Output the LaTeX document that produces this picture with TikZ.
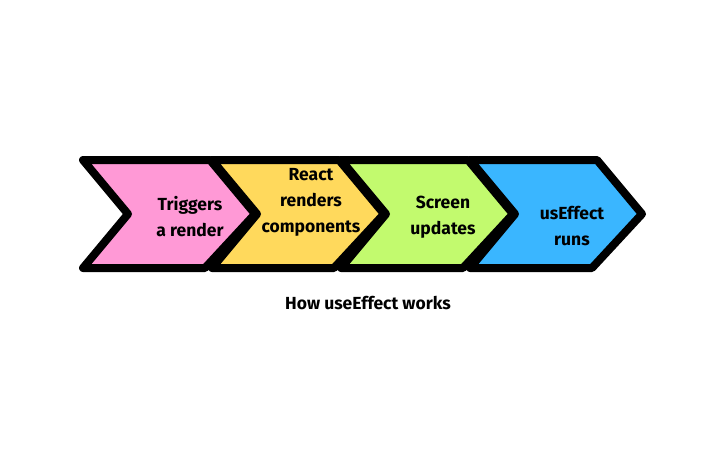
\documentclass[tikz,border=0pt]{standalone}
\usepackage{fontspec}
\setmainfont{Fira Sans}
\definecolor{cpink}{HTML}{FF99D6}
\definecolor{cyellow}{HTML}{FFD95C}
\definecolor{cgreen}{HTML}{C2FA6E}
\definecolor{cblue}{HTML}{3AB6FF}
\tikzset{
  chev/.style={draw=black, line width=8pt, line join=round, line cap=round},
  lbl/.style={align=center, font=\fontsize{17.5}{26}\selectfont\bfseries, text=black},
}
\begin{document}
\begin{tikzpicture}[x=1pt,y=-1pt]
\useasboundingbox (0,0) rectangle (719,474);
\foreach \xo/\col in {83/cpink,212/cyellow,341/cgreen,470/cblue}{
  \filldraw[chev, fill=\col] (\xo,160) -- (\xo+127,160) -- (\xo+172,214) -- (\xo+122,268) -- (\xo,268) -- (\xo+45,214) -- cycle;
}
\node[lbl] (t1) at (190,217) {Triggers\\a render};
\node[lbl] (t2) at (311,202) {React\\renders\\components};
\node[lbl] (t3) at (443,217) {Screen\\updates};
\node[lbl] (t4) at (572,226) {usEffect\\runs};
\node[lbl] (cap) at (368,303) {How useEffect works};
\end{tikzpicture}
\end{document}
